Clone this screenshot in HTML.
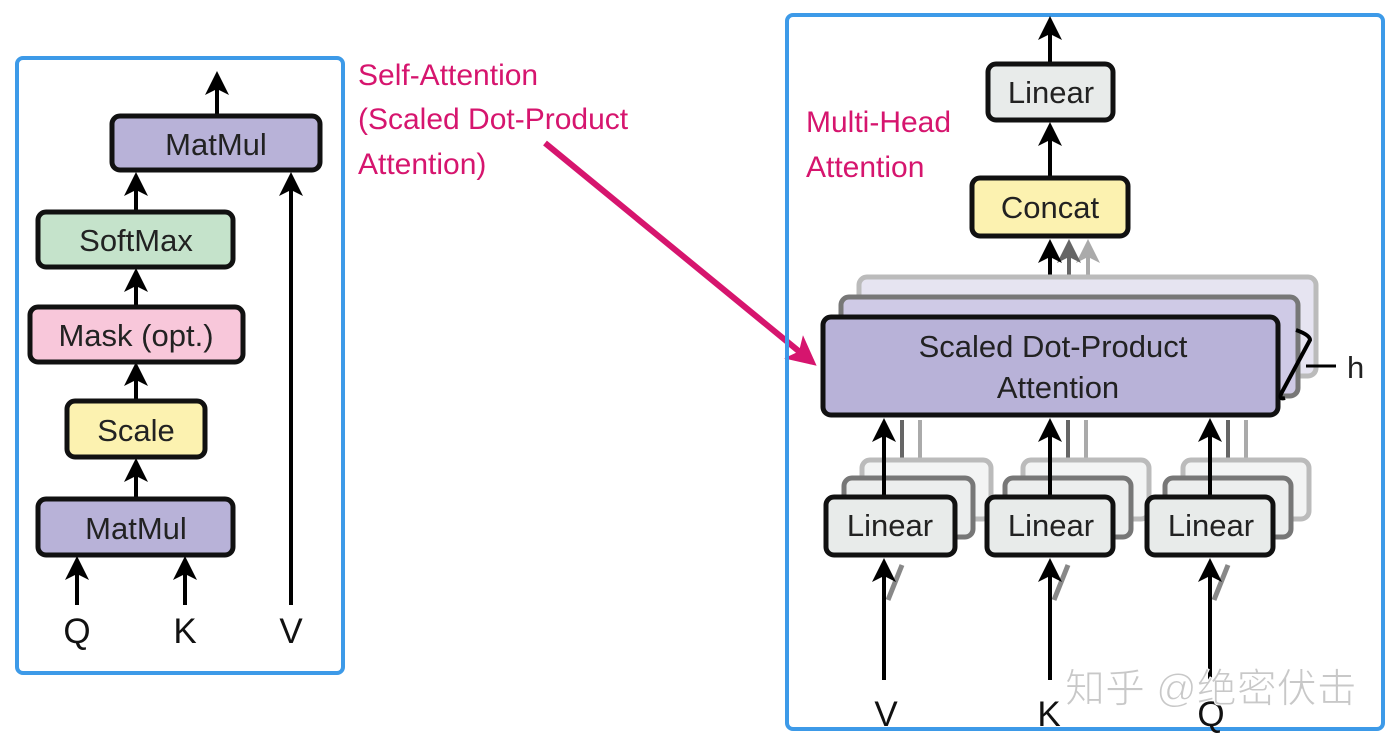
<!DOCTYPE html>
<html><head><meta charset="utf-8"><style>
html,body{margin:0;padding:0;background:#fff}
svg{display:block}
text{font-family:"Liberation Sans","Noto Sans CJK SC",sans-serif}
</style></head><body>
<svg width="1400" height="744" viewBox="0 0 1400 744" xmlns="http://www.w3.org/2000/svg">
<defs>
<marker id="ah" markerWidth="6" markerHeight="6" refX="5" refY="3" orient="auto" markerUnits="strokeWidth"><path d="M0,0 L6,3 L0,6 L1.5,3 z" fill="#000"/></marker>
<marker id="ahg" markerWidth="6" markerHeight="6" refX="5" refY="3" orient="auto" markerUnits="strokeWidth"><path d="M0,0 L6,3 L0,6 L1.5,3 z" fill="#666"/></marker>
<marker id="ahl" markerWidth="6" markerHeight="6" refX="5" refY="3" orient="auto" markerUnits="strokeWidth"><path d="M0,0 L6,3 L0,6 L1.5,3 z" fill="#aaa"/></marker>
<marker id="ahp" markerWidth="5" markerHeight="5" refX="4" refY="2.5" orient="auto" markerUnits="strokeWidth"><path d="M0,0 L5,2.5 L0,5 L1.2,2.5 z" fill="#d6156e"/></marker>
</defs>

<rect x="17" y="58" width="326" height="615" rx="6" fill="none" stroke="#3d9ae8" stroke-width="4"/>
<g stroke="#000" stroke-width="4" fill="none">
<line x1="217" y1="115" x2="217" y2="75" marker-end="url(#ah)"/>
<line x1="136" y1="212" x2="136" y2="176" marker-end="url(#ah)"/>
<line x1="136" y1="306" x2="136" y2="272" marker-end="url(#ah)"/>
<line x1="136" y1="400" x2="136" y2="366" marker-end="url(#ah)"/>
<line x1="136" y1="498" x2="136" y2="462" marker-end="url(#ah)"/>
<line x1="77" y1="605" x2="77" y2="560" marker-end="url(#ah)"/>
<line x1="185" y1="605" x2="185" y2="560" marker-end="url(#ah)"/>
<line x1="291" y1="605" x2="291" y2="176" marker-end="url(#ah)"/>
</g>
<g stroke="#111" stroke-width="5">
<rect x="112" y="116" width="208" height="54" rx="8" fill="#b8b2d8"/>
<rect x="38" y="212" width="195" height="55" rx="8" fill="#c5e3cb"/>
<rect x="30" y="307" width="213" height="55" rx="8" fill="#f8c7da"/>
<rect x="67" y="401" width="138" height="56" rx="8" fill="#fcf2b0"/>
<rect x="38" y="499" width="195" height="56" rx="8" fill="#b8b2d8"/>
</g>
<g font-size="31" fill="#222" text-anchor="middle">
<text x="216" y="155">MatMul</text>
<text x="136" y="251">SoftMax</text>
<text x="136" y="346">Mask (opt.)</text>
<text x="136" y="441">Scale</text>
<text x="136" y="539">MatMul</text>
</g>
<g font-size="35" fill="#111" text-anchor="middle">
<text x="77" y="643">Q</text>
<text x="185" y="643">K</text>
<text x="291" y="643">V</text>
</g>

<g font-size="30" fill="#d6156e">
<text x="358" y="85">Self-Attention</text>
<text x="358" y="129">(Scaled Dot-Product</text>
<text x="358" y="174">Attention)</text>
<text x="806" y="132">Multi-Head</text>
<text x="806" y="177">Attention</text>
</g>
<line x1="545" y1="143" x2="812" y2="362" stroke="#d6156e" stroke-width="6" marker-end="url(#ahp)"/>

<rect x="787" y="15" width="596" height="714" rx="6" fill="none" stroke="#3d9ae8" stroke-width="4"/>

<g stroke-width="4" fill="none">
<line x1="1050" y1="63" x2="1050" y2="20" stroke="#000" marker-end="url(#ah)"/>
<line x1="1050" y1="177" x2="1050" y2="126" stroke="#000" marker-end="url(#ah)"/>
<line x1="1088" y1="276" x2="1088" y2="243" stroke="#aaa" marker-end="url(#ahl)"/>
<line x1="1069" y1="296" x2="1069" y2="243" stroke="#666" marker-end="url(#ahg)"/>
<line x1="1050" y1="316" x2="1050" y2="243" stroke="#000" marker-end="url(#ah)"/>
</g>
<rect x="988" y="64" width="125" height="56" rx="8" fill="#e8ebea" stroke="#111" stroke-width="5"/>
<text x="1051" y="103" font-size="31" fill="#222" text-anchor="middle">Linear</text>
<rect x="972" y="178" width="156" height="58" rx="8" fill="#fcf2b0" stroke="#111" stroke-width="5"/>
<text x="1050" y="218" font-size="31" fill="#222" text-anchor="middle">Concat</text>

<rect x="859" y="277" width="457" height="99" rx="8" fill="#e6e4f1" stroke="#bbb" stroke-width="5"/>
<rect x="841" y="297" width="457" height="99" rx="8" fill="#cfcae6" stroke="#777" stroke-width="5"/>
<rect x="823" y="317" width="455" height="98" rx="8" fill="#b8b2d8" stroke="#111" stroke-width="5"/>
<text x="1053" y="357" font-size="31" fill="#222" text-anchor="middle">Scaled Dot-Product</text>
<text x="1058" y="398" font-size="31" fill="#222" text-anchor="middle">Attention</text>
<path d="M1276,330 Q1290,335 1290,340 L1262,392 Q1258,400 1265,398" stroke="#000" stroke-width="4" fill="none" transform="translate(20,0)"/>
<line x1="1306" y1="366" x2="1336" y2="366" stroke="#000" stroke-width="3"/>
<text x="1347" y="378" font-size="31" fill="#222">h</text>

<g stroke-width="4" fill="none">
<line x1="920" y1="460" x2="920" y2="420" stroke="#aaa"/>
<line x1="902" y1="478" x2="902" y2="420" stroke="#666"/>
<line x1="1086" y1="460" x2="1086" y2="420" stroke="#aaa"/>
<line x1="1068" y1="478" x2="1068" y2="420" stroke="#666"/>
<line x1="1246" y1="460" x2="1246" y2="420" stroke="#aaa"/>
<line x1="1228" y1="478" x2="1228" y2="420" stroke="#666"/>
</g>
<g stroke-width="5">
<rect x="862" y="460" width="129" height="59" rx="8" fill="#f3f4f4" stroke="#bbb"/>
<rect x="844" y="478" width="129" height="59" rx="8" fill="#eceeee" stroke="#777"/>
<rect x="1023" y="460" width="126" height="59" rx="8" fill="#f3f4f4" stroke="#bbb"/>
<rect x="1005" y="478" width="126" height="59" rx="8" fill="#eceeee" stroke="#777"/>
<rect x="1183" y="460" width="126" height="59" rx="8" fill="#f3f4f4" stroke="#bbb"/>
<rect x="1165" y="478" width="126" height="59" rx="8" fill="#eceeee" stroke="#777"/>
</g>
<g stroke="#000" stroke-width="4" fill="none">
<line x1="884" y1="496" x2="884" y2="422" marker-end="url(#ah)"/>
<line x1="1050" y1="496" x2="1050" y2="422" marker-end="url(#ah)"/>
<line x1="1210" y1="496" x2="1210" y2="422" marker-end="url(#ah)"/>
</g>
<g stroke-width="5">
<rect x="826" y="497" width="129" height="58" rx="8" fill="#e8ebea" stroke="#111"/>
<rect x="987" y="497" width="126" height="58" rx="8" fill="#e8ebea" stroke="#111"/>
<rect x="1147" y="497" width="126" height="58" rx="8" fill="#e8ebea" stroke="#111"/>
</g>
<g font-size="31" fill="#222" text-anchor="middle">
<text x="890" y="536">Linear</text>
<text x="1051" y="536">Linear</text>
<text x="1211" y="536">Linear</text>
</g>
<g stroke-width="5" fill="none" stroke="#888">
<line x1="888" y1="600" x2="902" y2="565"/>
<line x1="1054" y1="600" x2="1068" y2="565"/>
<line x1="1214" y1="600" x2="1228" y2="565"/>
</g>
<g stroke="#000" stroke-width="4" fill="none">
<line x1="884" y1="680" x2="884" y2="562" marker-end="url(#ah)"/>
<line x1="1050" y1="680" x2="1050" y2="562" marker-end="url(#ah)"/>
<line x1="1210" y1="680" x2="1210" y2="562" marker-end="url(#ah)"/>
</g>
<g font-size="35" fill="#111" text-anchor="middle">
<text x="886" y="726">V</text>
<text x="1049" y="726">K</text>
<text x="1211" y="726">Q</text>
</g>
<text x="1065" y="702" font-size="40" fill="#c8c8c8" stroke="#fff" stroke-width="1">知乎 @绝密伏击</text>
</svg>
</body></html>
